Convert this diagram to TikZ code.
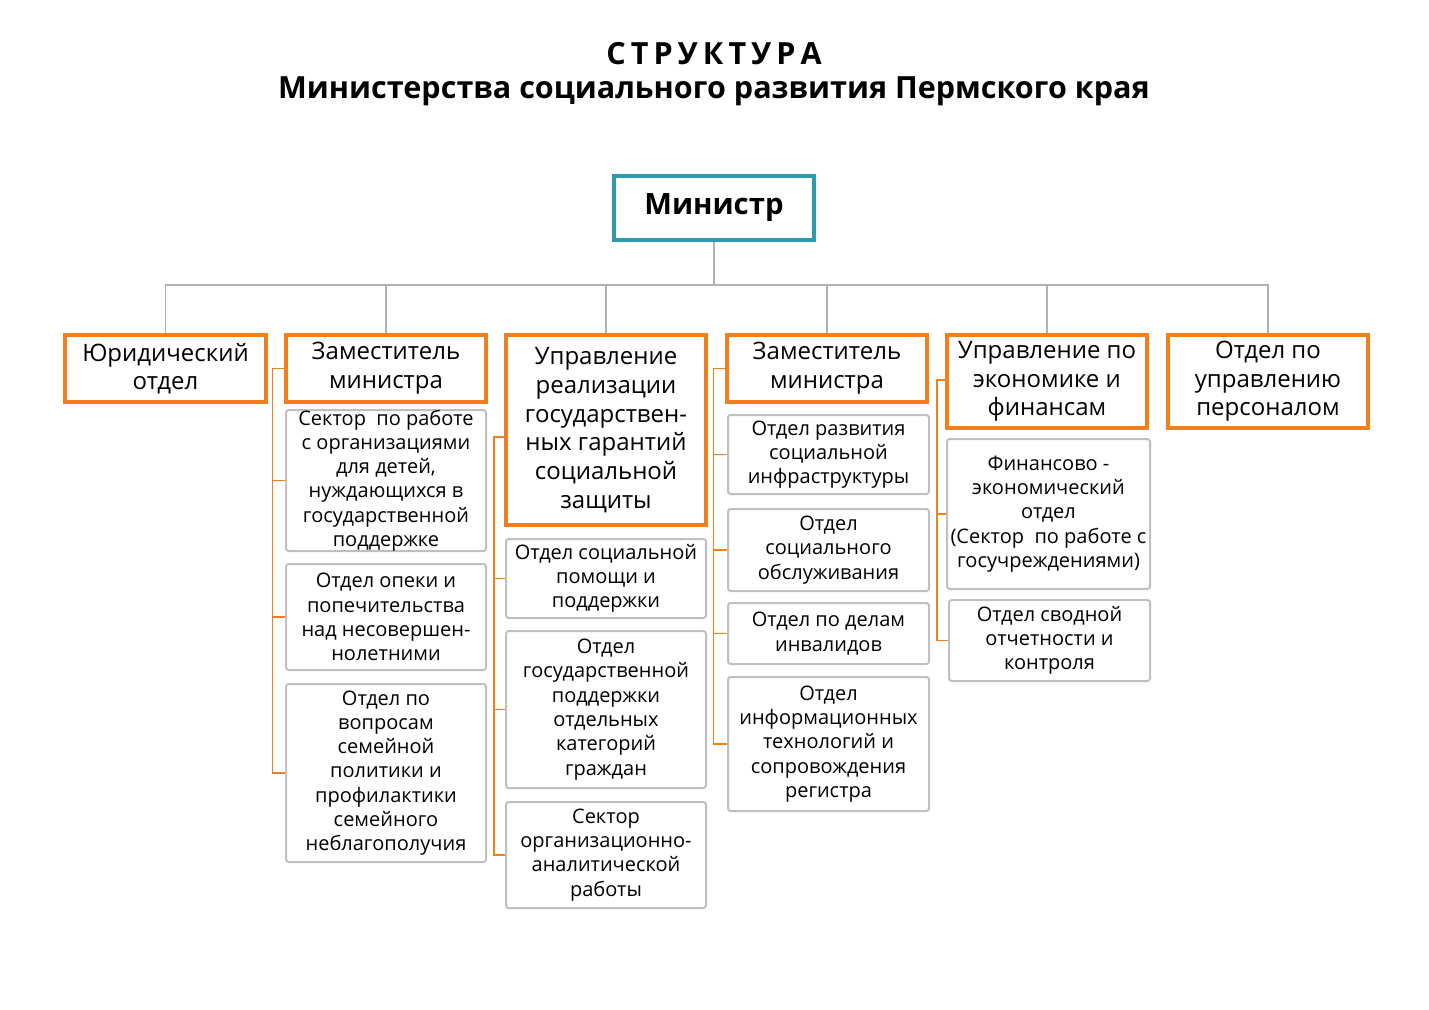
\documentclass[tikz,border=0pt]{standalone}
\usepackage{fontspec}
\setmainfont{Open Sans}
\usetikzlibrary{fit}
\definecolor{org}{HTML}{F07F1E}
\definecolor{teal}{HTML}{2E9AB0}
\definecolor{gb}{HTML}{BFBFBF}
\definecolor{ln}{HTML}{B0B0B0}
\tikzset{
 obox/.style={draw=org,line width=2.6pt,inner sep=0pt},
 gbox/.style={draw=gb,line width=1.5pt,rounded corners=2pt,inner sep=0pt},
 tbox/.style={draw=teal,line width=2.6pt,inner sep=0pt},
 big/.style={align=center,font=\fontsize{18}{21.5}\selectfont},
 sml/.style={align=center,font=\fontsize{15}{18.2}\selectfont},
 bus/.style={draw=ln,line width=0.8pt},
 orl/.style={draw=org,line width=0.8pt}
}
\newcommand{\bx}[7]{\node[#6,fit={(#2,#3)(#4,#5)}] (#1) {};\node[#7] at (#1.center) }
\begin{document}
\begin{tikzpicture}[x=0.75pt,y=-0.75pt]
\useasboundingbox (0,0) rectangle (1429,1010);
\node[font=\bfseries\fontsize{22.9}{27}\selectfont] at (714,54) {С\,Т\,Р\,У\,К\,Т\,У\,Р\,А};
\node[font=\bfseries\fontsize{22.9}{27}\selectfont] at (714,91) {Министерства социального развития Пермского края};
\bx{m}{614}{176}{814}{240}{tbox}{font=\bfseries\fontsize{22}{27}\selectfont} {Министр};
\bx{a}{65}{335}{266}{402}{obox}{big} {Юридический\\отдел};
\bx{b}{286}{335}{486}{402}{obox}{big} {Заместитель\\министра};
\bx{c}{506}{335}{706}{525}{obox}{big} {Управление\\реализации\\государствен-\\ных гарантий\\социальной\\защиты};
\bx{d}{727}{335}{927}{402}{obox}{big} {Заместитель\\министра};
\bx{e}{947}{335}{1147}{428}{obox}{big} {Управление по\\экономике и\\финансам};
\bx{f}{1168}{335}{1368}{428}{obox}{big} {Отдел по\\управлению\\персоналом};
\coordinate (j) at (714,285);
\draw[bus] (m.south) -- (j);
\foreach \n in {a,b,c,d,e,f}{\draw[bus] (j) -| (\n.north);}
\bx{b1}{286}{410}{486}{551}{gbox}{sml} {Сектор\ \ по работе\\с организациями\\для детей,\\нуждающихся в\\государственной\\поддержке};
\bx{b2}{286}{564}{486}{670}{gbox}{sml} {Отдел опеки и\\попечительства\\над несовершен-\\нолетними};
\bx{b3}{286}{684}{486}{862}{gbox}{sml} {Отдел по\\вопросам\\семейной\\политики и\\профилактики\\семейного\\неблагополучия};
\bx{c1}{506}{539}{706}{618}{gbox}{sml} {Отдел социальной\\помощи и\\поддержки};
\bx{c2}{506}{631}{706}{788}{gbox}{sml} {Отдел\\государственной\\поддержки\\отдельных\\категорий\\граждан};
\bx{c3}{506}{802}{706}{908}{gbox}{sml} {Сектор\\организационно-\\аналитической\\работы};
\bx{d1}{728}{415}{929}{494}{gbox}{sml} {Отдел развития\\социальной\\инфраструктуры};
\bx{d2}{728}{509}{929}{591}{gbox}{sml} {Отдел\\социального\\обслуживания};
\bx{d3}{728}{603}{929}{664}{gbox}{sml} {Отдел по делам\\инвалидов};
\bx{d4}{728}{677}{929}{811}{gbox}{sml} {Отдел\\информационных\\технологий и\\сопровождения\\регистра};
\bx{e1}{947}{439}{1150}{589}{gbox}{sml} {Финансово -\\экономический\\отдел\\(Сектор\ \ по работе с\\госучреждениями)};
\bx{e2}{949}{600}{1150}{681}{gbox}{sml} {Отдел сводной\\отчетности и\\контроля};
\draw[orl] (b.west) -- ++(-12,0) |- (b3.west);
\draw[orl] (b.west) ++(-12,0) |- (b1.west);
\draw[orl] (b.west) ++(-12,0) |- (b2.west);
\coordinate (cj) at (494,437);
\draw[orl] (c.west |- cj) -- (cj) |- (c3.west);
\draw[orl] (cj) |- (c1.west);
\draw[orl] (cj) |- (c2.west);
\draw[orl] (d.west) -- ++(-12,0) |- (d4.west);
\foreach \n in {d1,d2,d3}{\draw[orl] (d.west) ++(-12,0) |- (\n.west);}
\coordinate (ej) at (937,380);
\draw[orl] (e.west |- ej) -- (ej) |- (e2.west);
\draw[orl] (ej) |- (e1.west);
\end{tikzpicture}
\end{document}
